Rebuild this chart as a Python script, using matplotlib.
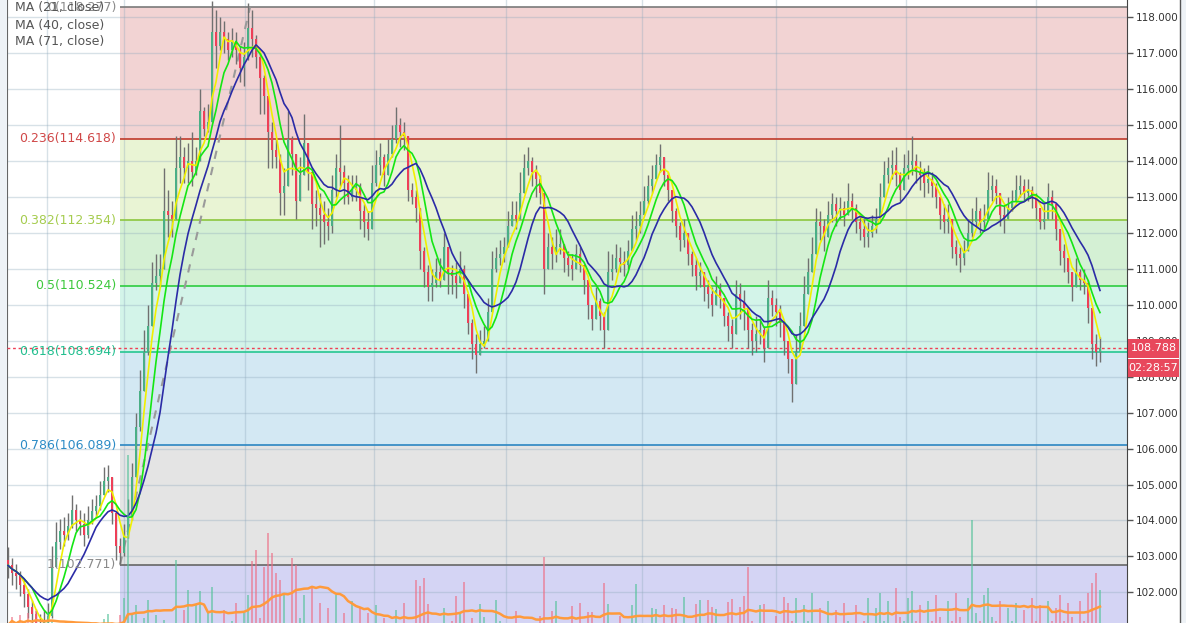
import matplotlib
matplotlib.use("Agg")
import matplotlib.pyplot as plt
import matplotlib.transforms as mtransforms
from matplotlib.patches import Rectangle
from matplotlib.lines import Line2D
from matplotlib.ticker import FormatStrFormatter
import numpy as np
import pandas as pd

W, H = 1186, 623

# candle data (one candle ~ 6 bars of the original)
FIRST_OPEN = 102.90
CLOSES = [
    102.75, 102.55, 102.45, 102.20, 101.95, 101.60, 101.40, 101.15, 101.05, 101.20,
    101.35, 102.70, 103.40, 103.70, 103.60, 103.85, 104.30, 104.00, 103.90, 103.60,
    104.00, 104.25, 104.40, 104.70, 105.10, 105.20, 104.20, 103.30, 103.10, 103.60,
    104.10, 105.20, 106.60, 107.60, 108.70, 109.40, 110.60, 110.80, 111.00, 112.60,
    112.50, 112.40, 113.80, 114.10, 113.80, 114.00, 113.70, 114.00, 115.40, 114.90,
    115.10, 117.60, 117.20, 117.60, 117.40, 117.10, 117.30, 117.10, 116.60, 116.90,
    117.70, 117.40, 116.90, 116.30, 115.80, 114.80, 114.30, 114.10, 113.10, 113.30,
    114.60, 114.20, 112.90, 113.60, 114.50, 113.70, 112.80, 112.70, 112.50, 112.30,
    112.20, 113.20, 113.80, 113.70, 113.40, 113.00, 113.20, 113.30, 112.60, 112.30,
    112.10, 113.40, 113.90, 114.10, 113.60, 114.20, 114.60, 115.00, 114.80, 114.70,
    113.20, 113.00, 112.70, 111.50, 110.90, 110.50, 110.60, 110.90, 110.70, 111.60,
    110.90, 110.80, 110.60, 111.00, 110.30, 109.50, 108.90, 108.60, 108.90, 109.00,
    109.80, 111.00, 111.30, 111.40, 111.60, 112.20, 112.50, 112.40, 113.10, 113.80,
    114.00, 113.70, 113.50, 113.10, 111.00, 111.60, 111.40, 111.60, 111.70, 111.30,
    111.10, 111.00, 111.40, 111.10, 110.70, 110.00, 109.60, 110.10, 109.70, 109.30,
    110.90, 111.00, 111.30, 111.20, 111.10, 111.50, 112.10, 112.20, 112.50, 112.90,
    113.30, 113.50, 113.90, 114.10, 113.60, 113.20, 112.60, 112.20, 111.80, 112.00,
    111.40, 111.10, 110.80, 110.90, 110.50, 110.30, 110.00, 110.40, 110.20, 109.70,
    109.40, 109.20, 110.30, 110.10, 109.90, 109.30, 109.00, 109.20, 109.30, 108.80,
    110.20, 110.00, 109.80, 109.50, 109.00, 108.50, 107.80, 108.70, 109.40, 110.30,
    110.90, 111.40, 112.30, 112.20, 111.90, 112.50, 112.80, 112.60, 112.70, 112.50,
    112.90, 112.70, 112.30, 112.10, 111.90, 112.00, 112.20, 112.40, 113.00, 113.60,
    113.80, 113.90, 113.60, 113.20, 113.80, 113.90, 114.00, 113.70, 113.60, 113.40,
    113.50, 113.30, 113.00, 112.50, 112.30, 112.40, 111.60, 111.40, 111.30, 111.50,
    112.00, 112.30, 112.60, 112.30, 112.40, 113.20, 113.30, 113.10, 112.50, 112.40,
    112.70, 112.90, 113.20, 113.30, 113.10, 113.20, 113.00, 112.70, 112.30, 112.40,
    113.00, 112.80, 112.10, 111.50, 111.30, 110.90, 110.50, 110.90, 110.70, 110.60,
    109.90, 108.90, 108.70, 108.79,
]
HIGHS = [
    103.25, 102.95, 102.80, 102.60, 102.35, 102.10, 101.80, 101.55, 101.40, 101.50,
    101.70, 103.30, 103.95, 104.05, 104.10, 104.20, 104.70, 104.45, 104.30, 104.20,
    104.40, 104.60, 104.70, 105.10, 105.50, 105.55, 105.20, 103.80, 103.50, 103.90,
    104.60, 105.60, 107.00, 108.20, 109.30, 110.00, 111.20, 111.40, 111.40, 113.80,
    113.20, 112.90, 114.70, 114.70, 114.40, 114.50, 114.80, 114.40, 116.00, 115.50,
    115.60, 118.45, 118.20, 118.00, 117.90, 117.60, 117.70, 117.60, 117.20, 117.30,
    118.40, 118.20, 117.50, 117.00, 116.40, 115.50, 115.10, 114.60, 114.20, 113.80,
    115.40, 114.70, 114.20, 114.10, 115.30, 114.40, 113.60, 113.20, 113.10, 112.90,
    112.70, 113.60, 114.20, 115.00, 113.90, 113.60, 113.60, 113.60, 113.40, 112.80,
    112.60, 113.90, 114.30, 114.50, 114.20, 114.60, 115.00, 115.50, 115.20, 115.10,
    114.40, 113.40, 113.20, 112.40, 111.60, 111.10, 111.00, 111.30, 111.30, 112.00,
    111.40, 111.10, 111.20, 111.50, 111.10, 110.20, 109.60, 109.20, 109.30, 109.40,
    110.20, 111.50, 111.60, 111.80, 111.90, 112.60, 112.90, 112.90, 113.70, 114.20,
    114.40, 114.10, 113.90, 113.60, 113.00, 112.00, 111.90, 112.10, 112.10, 111.60,
    111.50, 111.40, 111.70, 111.60, 111.00, 110.50, 110.00, 110.50, 110.20, 109.80,
    111.50, 111.40, 111.70, 111.60, 111.50, 111.80, 112.50, 112.60, 112.90, 113.30,
    113.60, 113.90, 114.20, 114.47, 114.10, 113.70, 113.10, 112.70, 112.30, 112.40,
    111.90, 111.50, 111.30, 111.20, 110.90, 110.70, 110.50, 110.80, 110.60, 110.20,
    109.80, 109.60, 110.70, 110.60, 110.40, 109.80, 109.50, 109.70, 109.60, 109.40,
    110.70, 110.40, 110.20, 110.00, 109.50, 109.00, 108.50, 109.20, 109.80, 110.80,
    111.30, 111.90, 112.70, 112.60, 112.40, 112.90, 113.10, 113.00, 113.00, 112.90,
    113.40, 113.10, 112.80, 112.50, 112.40, 112.30, 112.50, 112.70, 113.40, 114.00,
    114.10, 114.30, 114.40, 113.70, 114.20, 114.30, 114.70, 114.20, 114.00, 113.80,
    113.90, 113.70, 113.40, 113.00, 112.80, 112.80, 112.20, 111.80, 111.60, 111.80,
    112.40, 112.70, 113.00, 112.70, 112.80, 113.70, 113.60, 113.50, 113.00, 112.80,
    113.00, 113.20, 113.60, 113.60, 113.50, 113.50, 113.30, 113.10, 112.70, 112.80,
    113.40, 113.20, 112.60, 112.00, 111.70, 111.30, 110.90, 111.30, 111.00, 111.00,
    110.70, 109.50, 109.20, 109.10,
]
LOWS = [
    102.40, 102.20, 102.10, 101.90, 101.60, 101.30, 101.05, 100.80, 100.70, 100.85,
    101.00, 101.30, 102.80, 103.20, 103.30, 103.45, 103.80, 103.70, 103.60, 103.30,
    103.50, 103.90, 104.10, 104.30, 104.70, 104.80, 103.90, 102.90, 102.77, 103.00,
    103.50, 104.00, 105.20, 106.50, 107.60, 108.60, 109.90, 110.40, 110.50, 111.00,
    111.90, 111.90, 112.40, 113.40, 113.40, 113.40, 113.30, 113.60, 114.20, 114.70,
    114.80, 115.20, 116.60, 117.10, 117.00, 116.80, 116.90, 116.70, 116.20, 116.10,
    116.80, 116.90, 116.60, 115.30, 115.30, 113.80, 113.80, 113.80, 112.50, 112.50,
    113.80, 113.60, 112.40, 113.00, 113.80, 113.20, 112.10, 112.20, 111.60, 111.70,
    111.80, 112.00, 113.00, 113.30, 112.80, 112.80, 112.90, 112.90, 112.10, 111.90,
    111.80, 112.10, 113.30, 113.60, 113.30, 113.60, 114.10, 114.50, 114.40, 114.30,
    112.90, 112.80, 112.30, 111.00, 110.50, 110.10, 110.10, 110.50, 110.50, 110.90,
    110.30, 110.30, 110.20, 110.70, 109.90, 109.20, 108.50, 108.10, 108.60, 108.80,
    109.20, 109.80, 110.90, 111.10, 111.20, 111.60, 112.20, 112.10, 112.70, 113.30,
    113.60, 113.30, 113.00, 112.80, 110.30, 111.00, 111.00, 111.20, 111.40, 110.90,
    110.80, 110.70, 111.00, 110.90, 110.30, 109.60, 109.30, 109.70, 109.30, 108.80,
    109.40, 110.70, 110.90, 110.90, 110.80, 111.00, 111.70, 111.80, 112.00, 112.50,
    112.80, 113.10, 113.50, 113.70, 113.30, 112.90, 112.30, 111.90, 111.50, 111.60,
    111.10, 110.80, 110.40, 110.50, 110.10, 109.90, 109.70, 110.00, 109.90, 109.40,
    109.00, 108.80, 109.30, 109.60, 109.30, 108.80, 108.60, 108.70, 108.90, 108.40,
    108.90, 109.70, 109.40, 109.10, 108.60, 108.10, 107.30, 108.20, 108.90, 109.90,
    110.40, 111.00, 111.90, 111.80, 111.50, 112.10, 112.30, 112.20, 112.40, 112.20,
    112.50, 112.40, 112.00, 111.80, 111.60, 111.60, 111.90, 112.00, 112.60, 113.20,
    113.40, 113.50, 113.30, 112.90, 113.40, 113.50, 113.60, 113.40, 113.20, 113.00,
    113.10, 113.00, 112.70, 112.10, 112.00, 112.00, 111.30, 111.10, 110.90, 111.10,
    111.60, 111.90, 112.20, 112.00, 112.10, 112.80, 112.90, 112.80, 112.20, 112.00,
    112.40, 112.60, 112.90, 113.00, 112.90, 112.90, 112.70, 112.40, 112.10, 112.10,
    112.40, 112.40, 111.80, 111.10, 110.90, 110.60, 110.10, 110.50, 110.40, 110.30,
    109.50, 108.50, 108.30, 108.40,
]
VOLUMES = [
    180, 260, 150, 280, 170, 300, 160, 320, 190, 150,
    300, 230, 170, 150, 200, 160, 180, 140, 180, 160,
    150, 190, 150, 170, 240, 290, 200, 180, 280, 450,
    1880, 300, 380, 180, 250, 430, 160, 280, 150, 230,
    150, 200, 830, 170, 330, 530, 160, 380, 520, 180,
    300, 560, 200, 150, 330, 160, 220, 400, 170, 300,
    480, 820, 930, 250, 760, 1100, 900, 700, 630, 480,
    200, 850, 780, 250, 480, 200, 560, 170, 400, 160,
    350, 150, 480, 200, 300, 150, 420, 180, 350, 150,
    300, 160, 380, 150, 250, 170, 150, 330, 160, 400,
    150, 170, 630, 570, 650, 390, 200, 150, 160, 350,
    150, 220, 470, 300, 610, 200, 250, 150, 390, 260,
    150, 150, 430, 220, 140, 150, 170, 320, 200, 150,
    140, 170, 150, 270, 860, 200, 320, 420, 150, 170,
    150, 370, 150, 400, 200, 310, 310, 150, 170, 600,
    390, 150, 170, 270, 150, 150, 380, 590, 200, 150,
    160, 350, 340, 180, 380, 150, 350, 340, 170, 460,
    150, 160, 390, 430, 150, 430, 360, 340, 150, 160,
    410, 440, 150, 360, 470, 760, 220, 150, 380, 390,
    150, 160, 270, 150, 460, 400, 220, 450, 180, 380,
    220, 500, 180, 350, 200, 420, 170, 330, 190, 400,
    220, 180, 380, 160, 220, 450, 180, 350, 500, 220,
    420, 200, 550, 260, 220, 450, 520, 220, 380, 180,
    420, 220, 480, 260, 190, 420, 220, 500, 260, 200,
    450, 1230, 300, 220, 480, 550, 260, 220, 420, 190,
    350, 220, 400, 180, 330, 200, 450, 220, 380, 180,
    420, 220, 350, 480, 220, 400, 260, 200, 420, 220,
    500, 600, 700, 530,
]

MA_PERIODS = [21, 40, 71]
MA_COLORS = ['#f0f000', '#14e614', '#2b2ba6']
BARS_PER_CANDLE = 6

FIB_RATIOS = ['0', '0.236', '0.382', '0.5', '0.618', '0.786', '1']
FIB_PRICES = [118.277, 114.618, 112.354, 110.524, 108.694, 106.089, 102.771]
FIB_LINE_COLORS = ['#7a7a7a', '#c0392b', '#8cc63f', '#2ecc40', '#26c691', '#2b86c2', '#666666']
FIB_TEXT_COLORS = ['#8a8a8a', '#d04848', '#a5cc4e', '#3cc83c', '#22bf8f', '#2b8bc6', '#8a8a8a']
FIB_FILLS = ['#f2d3d3', '#e9f4d4', '#d4f0d4', '#d3f4e9', '#d3e8f3', '#e4e4e4', '#d4d4f4']
FIB_START, FIB_END = 28, 60.5

LAST_PRICE = 108.788
COUNTDOWN = '02:28:57'
DAY_LINES = [9.75, 29, 59.25, 91.5, 124.5, 158.5, 192, 224.5, 257]
PRICE_TICKS = list(range(102, 119))

closes = np.array(CLOSES)
n = len(closes)
idx = np.arange(n)
opens = np.concatenate([[FIRST_OPEN], closes[:-1]])
highs = np.maximum(np.array(HIGHS), np.maximum(opens, closes))
lows = np.minimum(np.array(LOWS), np.minimum(opens, closes))
up = closes >= opens

fig = plt.figure(figsize=(W / 100, H / 100), dpi=100)
fig.patch.set_facecolor('white')
ax = fig.add_axes([7 / W, 0, 1120 / W, 1])
x0, x1 = -0.25, 279.75
y0, y1 = 101.147, 118.481

# volume sits on a twin axis whose baseline is below the visible area
ax2 = ax.twinx()

ax.set_xlim(x0, x1)
ax.set_ylim(y0, y1)
ax.set_facecolor('white')

# fib zones and levels
bounds = FIB_PRICES + [y0 - 1]
for k in range(len(FIB_PRICES)):
    ax.fill_between([FIB_START, x1], bounds[k + 1], bounds[k], color=FIB_FILLS[k], lw=0, zorder=0)
ax.hlines(FIB_PRICES, FIB_START, x1, colors=FIB_LINE_COLORS, lw=1.2, zorder=2)
for r, p, c in zip(FIB_RATIOS, FIB_PRICES, FIB_TEXT_COLORS):
    ax.text(FIB_START - 1, p, f'{r}({p:.3f})', ha='right', va='center', color=c, fontsize=9, zorder=7)
ax.plot([FIB_START, FIB_END], [FIB_PRICES[-1], FIB_PRICES[0]], color='#9a9a9a',
        ls=(0, (4, 4)), lw=1.5, zorder=2)

# grid
ax.set_axisbelow(True)
ax.set_yticks(PRICE_TICKS)
ax.set_xticks(DAY_LINES)
ax.grid(True, color='#8fa9bd', alpha=0.35, lw=1)

# candles
ax.vlines(idx, lows, highs, color='#707070', lw=1, zorder=4)
ax.bar(idx, np.maximum(np.abs(closes - opens), 0.03), bottom=np.minimum(opens, closes),
       width=0.6, color=np.where(up, '#4aaf86', '#ee3f58'), lw=0, zorder=5)

# moving averages
for p, col in zip(MA_PERIODS, MA_COLORS):
    w = max(1, round(p / BARS_PER_CANDLE))
    ma = pd.Series(closes).rolling(w, min_periods=1).mean()
    ax.plot(idx, ma, color=col, lw=1.2, zorder=6)

ax.axhline(LAST_PRICE, color='#f04055', ls=(0, (2, 2)), lw=1, zorder=3)

# axis styling
ax.yaxis.tick_right()
ax.yaxis.set_major_formatter(FormatStrFormatter('%.3f'))
ax.tick_params(axis='y', direction='out', length=4, width=1, color='#555555',
               labelsize=7.5, labelcolor='#333333', pad=2, left=False, labelleft=False,
               right=True, labelright=True)
ax.tick_params(axis='x', length=0, labelbottom=False)
for s in ['top', 'bottom']:
    ax.spines[s].set_visible(False)
ax.spines['left'].set_color('#666666')
ax.spines['right'].set_color('#444444')

# volume
ax2.set_ylim(200, 200 + 10 * H)
ax2.bar(idx, VOLUMES, width=0.6, color=np.where(up, '#55c29a', '#ee6e85'), alpha=0.6, lw=0)
vol_ma = pd.Series(VOLUMES).rolling(20, min_periods=1).mean()
ax2.plot(idx, vol_ma, color='#ff9a3c', lw=1.8)
ax2.set_yticks([])
ax2.set_xlim(x0, x1)
for s in ax2.spines.values():
    s.set_visible(False)

# legend text
for k, p in enumerate(MA_PERIODS):
    fig.text(15 / W, 1 - (8 + 17 * k) / H, f'MA ({p}, close)', ha='left', va='center',
             fontsize=9, color='#555555', zorder=30)

# last price box
tr = mtransforms.blended_transform_factory(ax.transAxes, ax.transData)
px = (y1 - y0) / H
bw = 51 / 1120
ax.add_patch(Rectangle((1 + 1 / 1120, LAST_PRICE - 9.5 * px), bw, 19 * px, transform=tr,
                       fc='#e8485c', ec='none', clip_on=False, zorder=20))
ax.add_patch(Rectangle((1 + 1 / 1120, LAST_PRICE - 28.5 * px), bw, 18 * px, transform=tr,
                       fc='#e8485c', ec='none', clip_on=False, zorder=20))
ax.text(1 + 26.5 / 1120, LAST_PRICE, f'{LAST_PRICE:.3f}', transform=tr, ha='center', va='center',
        color='white', fontsize=8, zorder=21, clip_on=False)
ax.text(1 + 26.5 / 1120, LAST_PRICE - 19.5 * px, COUNTDOWN, transform=tr, ha='center',
        va='center', color='white', fontsize=8, zorder=21, clip_on=False)

# outer frame
fig.add_artist(Rectangle((0, 0), 6.5 / W, 1, transform=fig.transFigure, fc='#eef2f6', ec='none'))
fig.add_artist(Rectangle((1180 / W, 0), 6 / W, 1, transform=fig.transFigure, fc='#eef2f6', ec='none'))
fig.add_artist(Line2D([1179.5 / W] * 2, [0, 1], transform=fig.transFigure, color='#555555', lw=1))

fig.savefig('out.png', dpi=100)
